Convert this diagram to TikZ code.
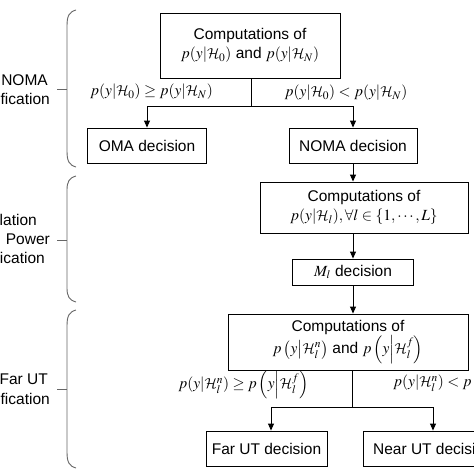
\documentclass[tikz,border=0pt]{standalone}
\usepackage{mathptmx}
\DeclareMathAlphabet{\mathcal}{OMS}{cmsy}{m}{n}
\usepackage{fontspec}
\setmainfont{Liberation Sans}
\usetikzlibrary{arrows.meta}
\begin{document}
\begin{tikzpicture}[x=1pt,y=-1pt,
 box/.style={draw, line width=0.9pt, inner sep=2pt, align=center, font=\fontsize{15.5}{19}\selectfont},
 arr/.style={line width=0.9pt, -{Triangle[length=7pt,width=6pt]}},
 ln/.style={line width=0.9pt},
 brace/.style={draw=black!60, line width=0.9pt},
 lab/.style={font=\fontsize{15.5}{19}\selectfont, inner sep=0pt},
 side/.style={font=\fontsize{15.5}{19}\selectfont, inner sep=0pt, anchor=east}]
\useasboundingbox (0,0) rectangle (474,474);
\clip (0,0) rectangle (474,474);
\fill[white] (0,0) rectangle (474,474);
% boxes
\node[box, minimum width=180, minimum height=65] (c1) at (250,45.5) {Computations of\\ $p(y|\mathcal{H}_0)$ and $p(y|\mathcal{H}_N)$};
\node[box, minimum width=119, minimum height=35] (oma) at (147,145.5) {OMA decision};
\node[box, minimum width=128, minimum height=35] (noma) at (353,145.5) {NOMA decision};
\node[box, minimum width=208, minimum height=51] (c2) at (364,207.5) {Computations of\\ $p(y|\mathcal{H}_l),\forall l\in\{1,\cdots,L\}$};
\node[box, minimum width=121, minimum height=26] (ml) at (353,272) {$M_l$ decision};
\node[box, minimum width=240, minimum height=56] (c3) at (348,342) {Computations of\\ $p\left(y\middle|\mathcal{H}_l^n\right)$ and $p\left(y\middle|\mathcal{H}_l^f\right)$};
\node[box, minimum width=121, minimum height=35] (far) at (266.5,448.5) {Far UT decision};
\node[box, minimum width=140, minimum height=35] (near) at (433,448.5) {Near UT decision};
% connectors
\coordinate (j1) at (251,106);
\draw[ln] (c1.south -| j1) -- (j1);
\draw[arr] (j1) -| (oma.north);
\draw[arr] (j1) -| (noma.north);
\draw[arr] (noma.south) -- (noma.south |- c2.north);
\draw[arr] (ml.north |- c2.south) -- (ml.north);
\draw[arr] (ml.south) -- (ml.south |- c3.north);
\coordinate (j2) at (352,407);
\path (far.north) ++(4.5,0) coordinate (fa);
\draw[ln] (c3.south -| j2) -- (j2);
\draw[arr] (j2) -| (fa);
\draw[arr] (j2) -| (near.north);
% condition labels
\node[lab] (l1) at (151.5,92) {$p(y|\mathcal{H}_0)\geq p(y|\mathcal{H}_N)$};
\node[lab] (l2) at (346,93) {$p(y|\mathcal{H}_0)<p(y|\mathcal{H}_N)$};
\node[lab] (l3) at (243.5,385) {$p(y|\mathcal{H}_l^n)\geq p\left(y\middle|\mathcal{H}_l^f\right)$};
\node[lab, anchor=west] (l4) at (393,383) {$p(y|\mathcal{H}_l^n)<p\left(y\middle|\mathcal{H}_l^f\right)$};
% braces
\draw[brace] (76,10) .. controls (69,12) and (67,16) .. (67,26) -- (67,151) .. controls (67,161) and (69,165) .. (76,167);
\draw[brace] (57,89) -- (67,89);
\draw[brace] (76,176) .. controls (69,178) and (67,182) .. (67,190) -- (67,288) .. controls (67,296) and (69,300) .. (76,302);
\draw[brace] (57,240) -- (67,240);
\draw[brace] (76,310) .. controls (69,312) and (67,316) .. (67,326) -- (67,452) .. controls (67,462) and (69,466) .. (76,468);
\draw[brace] (57,389) -- (67,389);
% side labels
\node[side] (s1) at (48,80) {NOMA};
\node[side] (s2) at (50,99) {fication};
\node[side] (s3) at (37,220) {lation};
\node[side] (s4) at (50,239) {Power};
\node[side] (s5) at (45,258) {ication};
\node[side] (s6) at (48,379) {Far UT};
\node[side] (s7) at (50,399) {fication};
\end{tikzpicture}
\end{document}
